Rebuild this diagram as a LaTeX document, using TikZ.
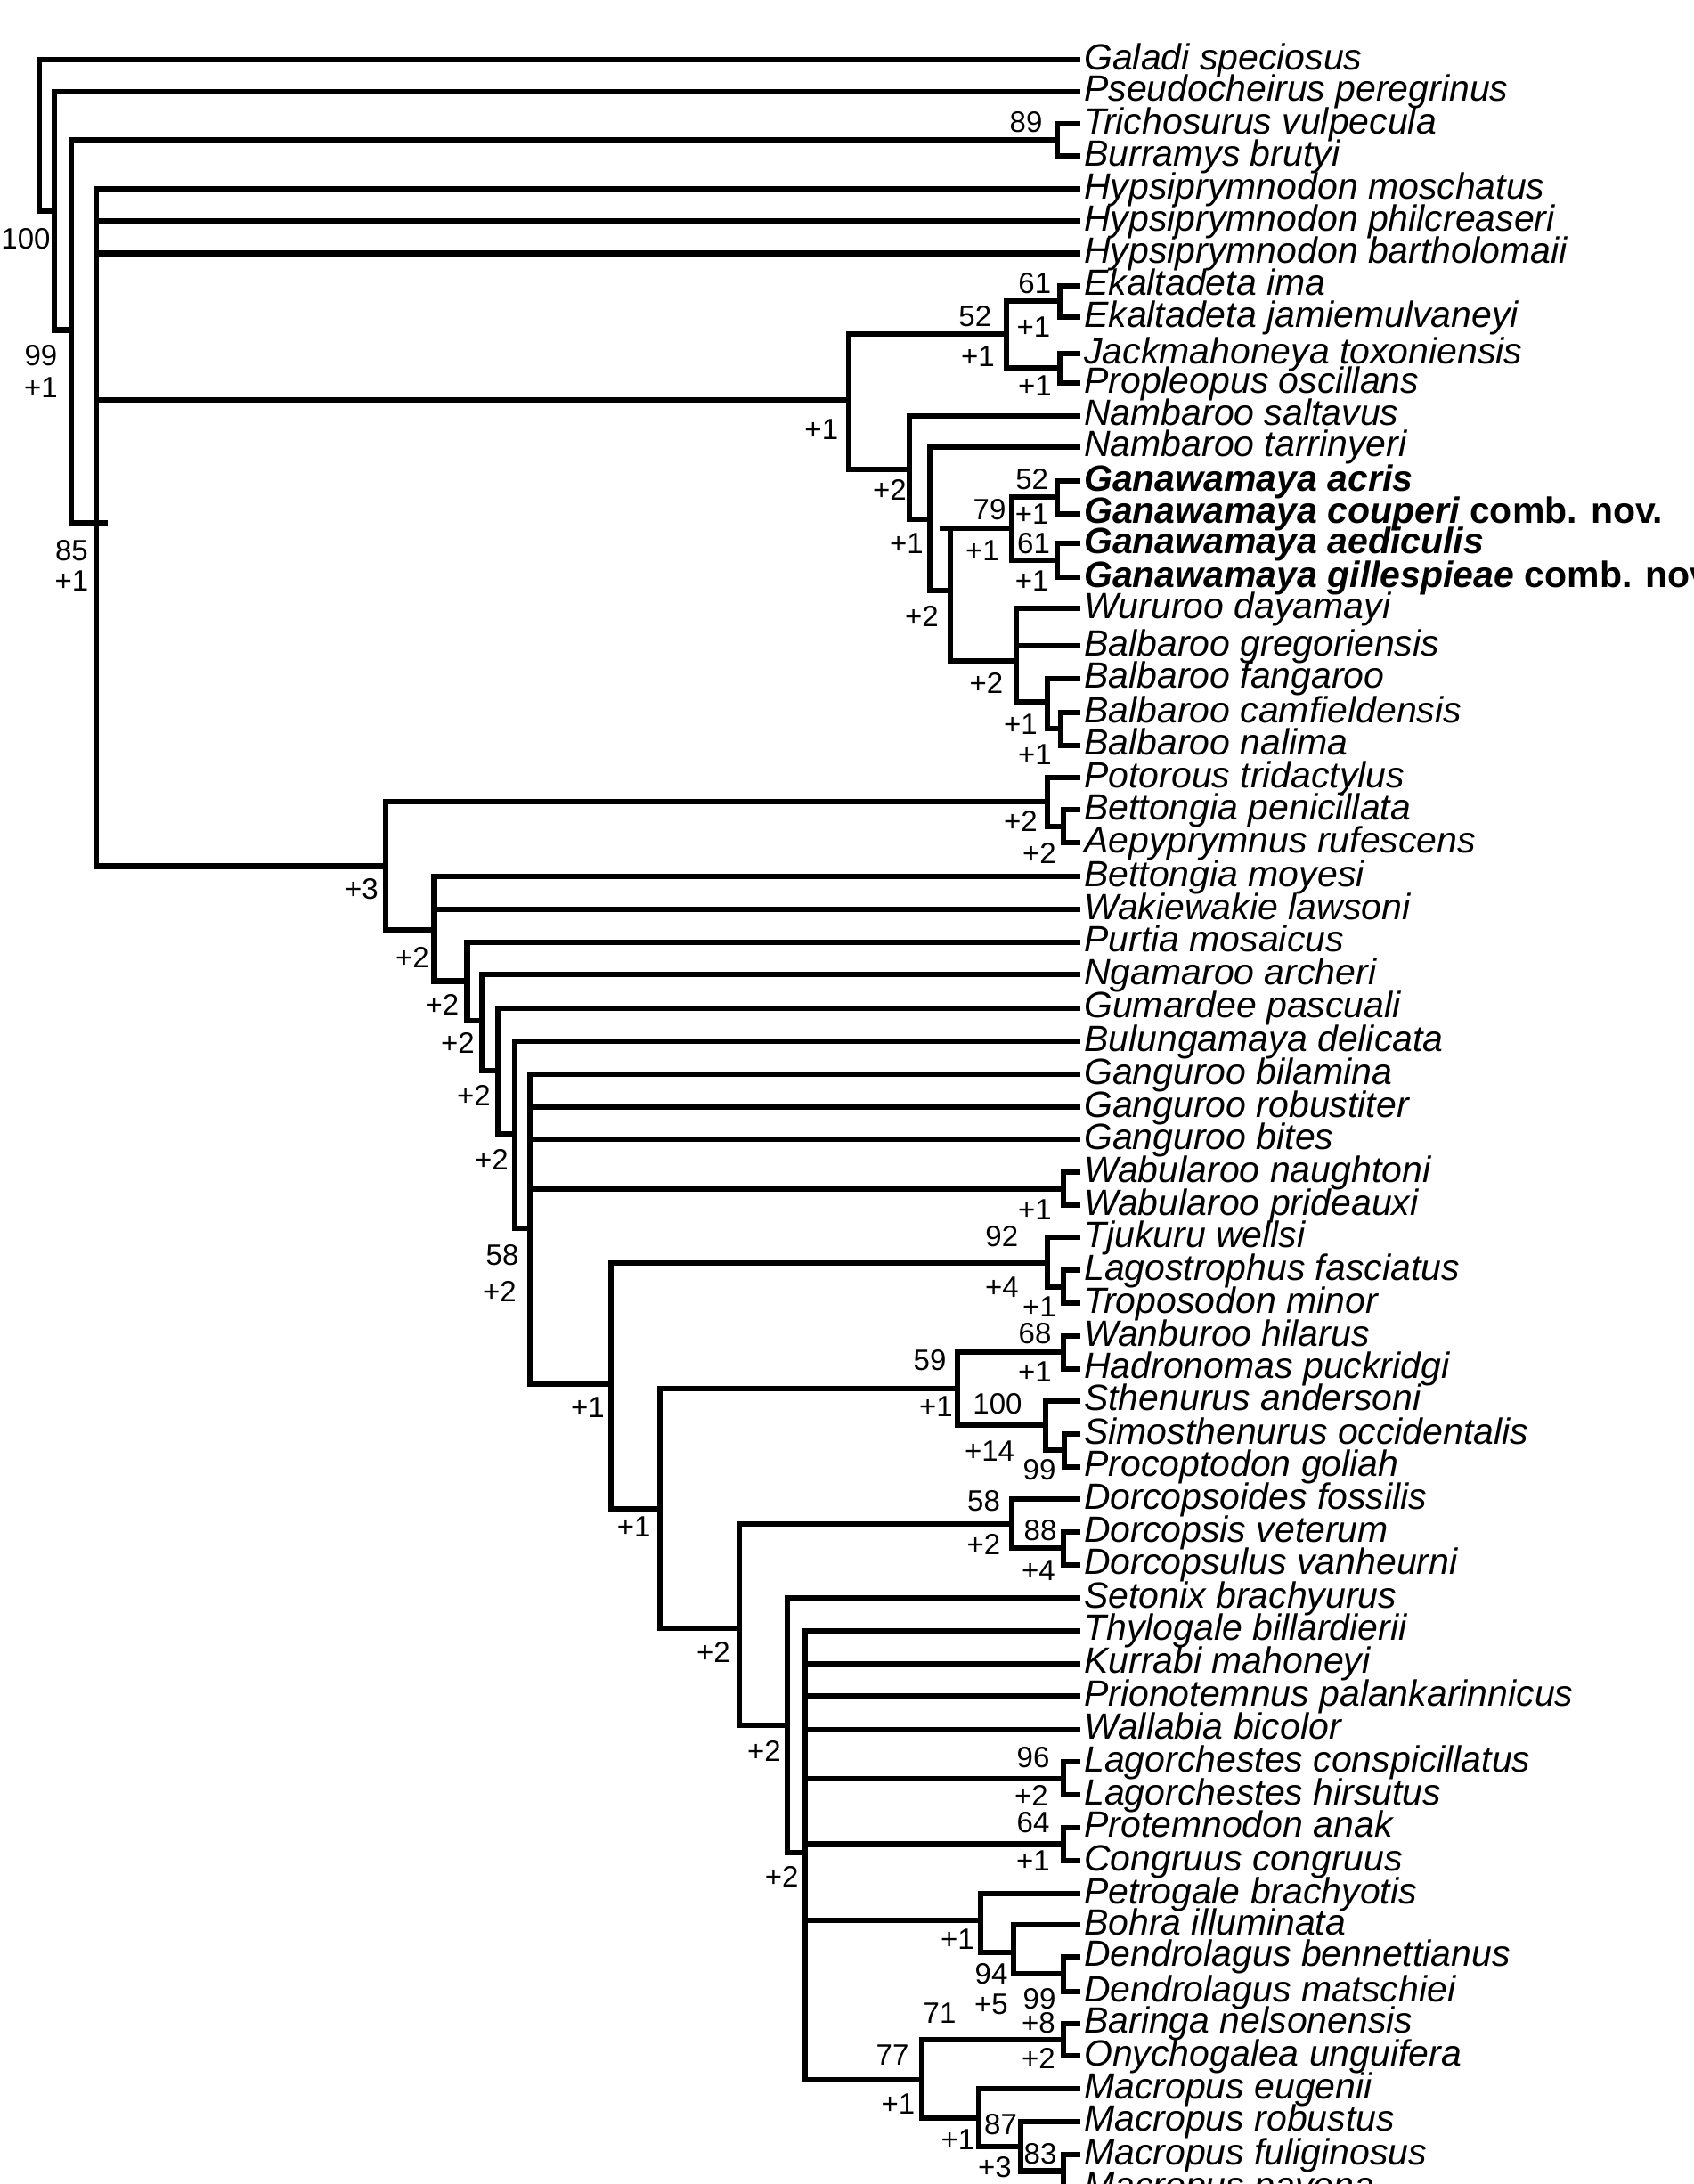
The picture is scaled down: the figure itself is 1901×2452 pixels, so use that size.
\documentclass[tikz,border=0pt]{standalone}
\usepackage{fontspec}
\setmainfont{Liberation Sans}
\begin{document}
\begin{tikzpicture}[x=1pt,y=-1pt,
  br/.style={line width=6.2pt,line cap=rect},
  taxon/.style={anchor=base west,inner sep=0pt,font=\fontsize{41}{41}\selectfont\itshape},
  supp/.style={inner sep=0pt,font=\fontsize{33}{33}\selectfont}]
\fill[white] (0,0) rectangle (1901,2452);
\useasboundingbox (0,0) rectangle (1901,2452);
% tips and taxon labels
\foreach \i/\y/\txt in {
1/67/{Galadi speciosus},
2/102.7/{Pseudocheirus peregrinus},
3/139.3/{Trichosurus vulpecula},
4/175/{Burramys brutyi},
5/212/{Hypsiprymnodon moschatus},
6/248/{Hypsiprymnodon philcreaseri},
7/284.4/{Hypsiprymnodon bartholomaii},
8/320.7/{Ekaltadeta ima},
9/356/{Ekaltadeta jamiemulvaneyi},
10/397/{Jackmahoneya toxoniensis},
11/430/{Propleopus oscillans},
12/466.7/{Nambaroo saltavus},
13/501.7/{Nambaroo tarrinyeri},
14/540/{\bfseries Ganawamaya acris},
15/576.7/{\bfseries Ganawamaya couperi \upshape comb. nov.},
16/610/{\bfseries Ganawamaya aediculis},
17/648/{\bfseries Ganawamaya gillespieae \upshape comb. nov.},
18/683/{Wururoo dayamayi},
19/725/{Balbaroo gregoriensis},
20/761.7/{Balbaroo fangaroo},
21/800/{Balbaroo camfieldensis},
22/836.7/{Balbaroo nalima},
23/873.3/{Potorous tridactylus},
24/909.3/{Bettongia penicillata},
25/946/{Aepyprymnus rufescens},
26/984.3/{Bettongia moyesi},
27/1021/{Wakiewakie lawsoni},
28/1057.7/{Purtia mosaicus},
29/1094.3/{Ngamaroo archeri},
30/1131.7/{Gumardee pascuali},
31/1169.3/{Bulungamaya delicata},
32/1206/{Ganguroo bilamina},
33/1243.3/{Ganguroo robustiter},
34/1279.3/{Ganguroo bites},
35/1316/{Wabularoo naughtoni},
36/1353.3/{Wabularoo prideauxi},
37/1389.3/{Tjukuru wellsi},
38/1426/{Lagostrophus fasciatus},
39/1463.3/{Troposodon minor},
40/1500/{Wanburoo hilarus},
41/1536.7/{Hadronomas puckridgi},
42/1572.7/{Sthenurus andersoni},
43/1610/{Simosthenurus occidentalis},
44/1646.7/{Procoptodon goliah},
45/1683.3/{Dorcopsoides fossilis},
46/1720/{Dorcopsis veterum},
47/1756.7/{Dorcopsulus vanheurni},
48/1794.3/{Setonix brachyurus},
49/1830.7/{Thylogale billardierii},
50/1867.7/{Kurrabi mahoneyi},
51/1904.3/{Prionotemnus palankarinnicus},
52/1941.7/{Wallabia bicolor},
53/1978.3/{Lagorchestes conspicillatus},
54/2015/{Lagorchestes hirsutus},
55/2051.7/{Protemnodon anak},
56/2089.3/{Congruus congruus},
57/2126/{Petrogale brachyotis},
58/2161/{Bohra illuminata},
59/2196.7/{Dendrolagus bennettianus},
60/2236/{Dendrolagus matschiei},
61/2271.7/{Baringa nelsonensis},
62/2308.3/{Onychogalea unguifera},
63/2345/{Macropus eugenii},
64/2381.7/{Macropus robustus},
65/2419/{Macropus fuliginosus},
66/2456/{Macropus pavena}}
{
  \coordinate (t\i) at (1210,\y);
  \node[taxon] (n\i) at (1217,\y+11) {\txt};
}
% internal nodes
\coordinate (A) at (44,236.6);
\coordinate (B) at (61,236.6);
\coordinate (C) at (80,370.5);
\coordinate (TB) at (1187,156.7);
\coordinate (D) at (108,587);
\coordinate (Dx) at (118,587);
\coordinate (E) at (953,448.7);
\coordinate (EK) at (1130,375);
\coordinate (EKA) at (1190,338.3);
\coordinate (JP) at (1190,413.5);
\coordinate (G) at (1021,526.7);
\coordinate (H) at (1044,582.7);
\coordinate (I) at (1067,663.3);
\coordinate (J) at (1136,592.7);
\coordinate (Jx) at (1058,592.7);
\coordinate (K) at (1187,558.3);
\coordinate (L) at (1187,629);
\coordinate (M) at (1141,741.7);
\coordinate (N) at (1176,788);
\coordinate (O) at (1191,818.3);
\coordinate (R) at (433,972.4);
\coordinate (P) at (1176,900);
\coordinate (Q) at (1194,927.6);
\coordinate (S) at (487.5,1044);
\coordinate (T) at (524.5,1101.5);
\coordinate (U) at (541.5,1146);
\coordinate (V) at (559,1202);
\coordinate (W) at (577.7,1273.5);
\coordinate (X) at (595.5,1379);
\coordinate (WB) at (1194,1334.6);
\coordinate (Y) at (686,1554);
\coordinate (TJ) at (1176,1418.3);
\coordinate (LT) at (1194,1444.6);
\coordinate (Z) at (740.6,1694.3);
\coordinate (NF) at (1074.6,1559);
\coordinate (WH) at (1194,1518.3);
\coordinate (ST) at (1174,1600);
\coordinate (SP) at (1195,1628.3);
\coordinate (AA) at (830,1828);
\coordinate (DO) at (1136,1711);
\coordinate (DT) at (1194,1738.3);
\coordinate (BB) at (884,1937);
\coordinate (CC) at (903.6,2080);
\coordinate (LG) at (1194,1996.6);
\coordinate (PC) at (1194,2070.5);
\coordinate (DD) at (1101,2155.7);
\coordinate (EE) at (1138,2192);
\coordinate (DN) at (1194,2216.3);
\coordinate (GG) at (1035,2334.8);
\coordinate (BO) at (1194,2290);
\coordinate (HH) at (1099,2377.4);
\coordinate (II) at (1146,2410);
\coordinate (JJ) at (1194,2437.5);
% connectors
\foreach \p/\c in {A/t1,A/B,B/t2,B/C,C/TB,C/Dx,TB/t3,TB/t4,
  D/t5,D/t6,D/t7,D/E,D/R,
  E/EK,E/G,EK/EKA,EK/JP,EKA/t8,EKA/t9,JP/t10,JP/t11,
  G/t12,G/H,H/t13,H/I,I/J,I/M,J/K,J/L,K/t14,K/t15,L/t16,L/t17,
  M/t18,M/t19,M/N,N/t20,N/O,O/t21,O/t22,
  R/P,R/S,P/t23,P/Q,Q/t24,Q/t25,
  S/t26,S/t27,S/T,T/t28,T/U,U/t29,U/V,V/t30,V/W,W/t31,W/X,
  X/t32,X/t33,X/t34,X/WB,X/Y,WB/t35,WB/t36,
  Y/TJ,Y/Z,TJ/t37,TJ/LT,LT/t38,LT/t39,
  Z/NF,Z/AA,NF/WH,NF/ST,WH/t40,WH/t41,ST/t42,ST/SP,SP/t43,SP/t44,
  AA/DO,AA/BB,DO/t45,DO/DT,DT/t46,DT/t47,
  BB/t48,BB/CC,CC/t49,CC/t50,CC/t51,CC/t52,CC/LG,CC/PC,CC/DD,CC/GG,
  LG/t53,LG/t54,PC/t55,PC/t56,
  DD/t57,DD/EE,EE/t58,EE/DN,DN/t59,DN/t60,
  GG/BO,GG/HH,BO/t61,BO/t62,HH/t63,HH/II,II/t64,II/JJ,JJ/t65,JJ/t66}
  {\draw[br] (\p) |- (\c);}
\draw[br] (Jx) -- (J);
% support values
\foreach \x/\y/\t [count=\k] in {
29/268/100, 46/399.6/99, 46/435/+1, 80.4/618/85, 80.4/652/+1,
1152/137/89,
1161.8/318.3/61, 1094.8/355/52, 1160.5/366.7/+1, 1098/400/+1, 1161.8/433.3/+1,
922.3/481.7/+1, 999/550/+2, 1018/610/+1, 1111/571.7/79, 1103/618/+1,
1158.6/538/52, 1158.6/576.7/+1, 1160.5/610/61, 1158.6/651.7/+1,
1035/691.7/+2, 1107.5/766.7/+2, 1146/813/+1, 1161.8/846.7/+1,
1146/921.7/+2, 1167/958/+2,
406/998/+3, 463/1074.5/+2, 496.4/1128/+2, 514/1171.4/+2, 532/1230/+2, 552/1301.5/+2,
564/1408.7/58, 561/1449.5/+2,
1162/1358.3/+1,
1124.8/1388/92, 1124.8/1445/+4, 1167/1466.7/+1,
660/1580/+1,
1162/1496.7/68, 1162/1540/+1,
1044/1527/59, 1051/1579/+1,
1120/1576/100, 1111/1628.7/+14, 1167/1650.6/99,
711.6/1713.7/+1,
1104.5/1685/58, 1104.5/1733.7/+2, 1168/1718.6/88, 1166/1763/+4,
801/1855/+2, 858/1966/+2, 877.7/2107/+2,
1160/1973.6/96, 1158/2016/+2, 1160/2046.5/64, 1160/2089/+1,
1075/2177/+1, 1113/2216.5/94, 1113/2250/+5, 1167/2244/99, 1166/2271/+8,
1055/2260/71, 1166/2311/+2,
1002/2307.5/77, 1008.5/2362/+1,
1075.5/2401.7/+1, 1123.5/2385/87, 1168/2418.3/83, 1117/2433/+3}
  {\node[supp] (s\k) at (\x,\y) {\t};}
\end{tikzpicture}
\end{document}
